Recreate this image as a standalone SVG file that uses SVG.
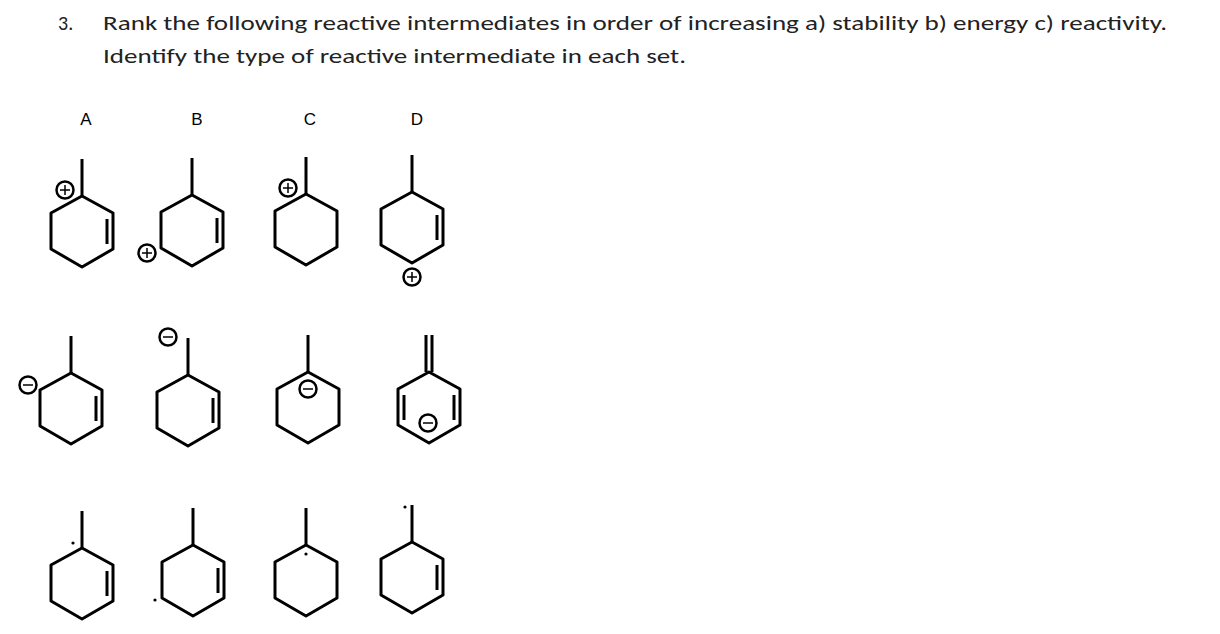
<svg xmlns="http://www.w3.org/2000/svg" xmlns:xlink="http://www.w3.org/1999/xlink" width="1220" height="634" viewBox="0 0 1220 634">
<style>
.b{fill:none;stroke:#000;stroke-width:3;stroke-linejoin:round}
.s{fill:none;stroke:#000;stroke-width:1.5}
.t{font-family:Carlito,"Liberation Sans",sans-serif;font-size:20px;fill:#222}
.l{font-family:"Liberation Sans",Arial,sans-serif;font-size:17px;text-anchor:middle;fill:#000}
</style>
<defs>
<path id="ring" class="b" d="M0,0 L-31,17 L-31,53 L0,71 L31,53 L31,17 Z"/>
<path id="db" class="b" d="M25,23 L25,48"/>
<path id="dbl" class="b" d="M-25,23 L-25,48"/>
<path id="me" class="b" d="M0,0 L0,-37"/>
<g id="plus"><circle r="8.5" fill="#fff" stroke="#000" stroke-width="2.5"/><path class="s" d="M-5,0 H5 M0,-5 V5"/></g>
<g id="minus"><circle r="8.5" fill="#fff" stroke="#000" stroke-width="2.5"/><path class="s" d="M-5,0 H5"/></g>
</defs>
<rect width="1220" height="634" fill="#fff"/>
<text class="t" x="58" y="30">3.</text>
<text class="t" x="103" y="30" textLength="1064" lengthAdjust="spacingAndGlyphs">Rank the following reactive intermediates in order of increasing a) stability b) energy c) reactivity.</text>
<text class="t" x="103" y="63" textLength="583" lengthAdjust="spacingAndGlyphs">Identify the type of reactive intermediate in each set.</text>
<text class="l" x="86" y="125">A</text>
<text class="l" x="197" y="125">B</text>
<text class="l" x="310" y="125">C</text>
<text class="l" x="417" y="125">D</text>
<!-- row 1 -->
<g transform="translate(82,196)"><use href="#ring"/><use href="#db"/><use href="#me"/></g>
<use href="#plus" x="65" y="190"/>
<g transform="translate(192,195)"><use href="#ring"/><use href="#db"/><use href="#me"/></g>
<use href="#plus" x="147" y="253"/>
<g transform="translate(306,194)"><use href="#ring"/><use href="#me"/></g>
<use href="#plus" x="288" y="188"/>
<g transform="translate(412,192)"><use href="#ring"/><use href="#db"/><use href="#me"/></g>
<use href="#plus" x="412" y="277"/>
<!-- row 2 -->
<g transform="translate(71,373)"><use href="#ring"/><use href="#db"/><use href="#me"/></g>
<use href="#minus" x="28" y="385"/>
<g transform="translate(188,375)"><use href="#ring"/><use href="#db"/><use href="#me"/></g>
<use href="#minus" x="168" y="337"/>
<g transform="translate(308,372)"><use href="#ring"/><use href="#me"/></g>
<use href="#minus" x="308" y="389"/>
<g transform="translate(429,372)"><use href="#ring"/><use href="#db"/><use href="#dbl"/><path class="b" d="M-3,0 V-37 M3,0 V-37"/></g>
<use href="#minus" x="428" y="423"/>
<!-- row 3 -->
<g transform="translate(82,548)"><use href="#ring"/><use href="#db"/><use href="#me"/></g>
<circle cx="73" cy="543" r="1.6"/>
<g transform="translate(193,545)"><use href="#ring"/><use href="#db"/><use href="#me"/></g>
<circle cx="155" cy="600" r="1.6"/>
<g transform="translate(306,545)"><use href="#ring"/><use href="#me"/></g>
<circle cx="306" cy="554" r="1.6"/>
<g transform="translate(412,542)"><use href="#ring"/><use href="#db"/><use href="#me"/></g>
<circle cx="405" cy="507" r="1.6"/>
</svg>
